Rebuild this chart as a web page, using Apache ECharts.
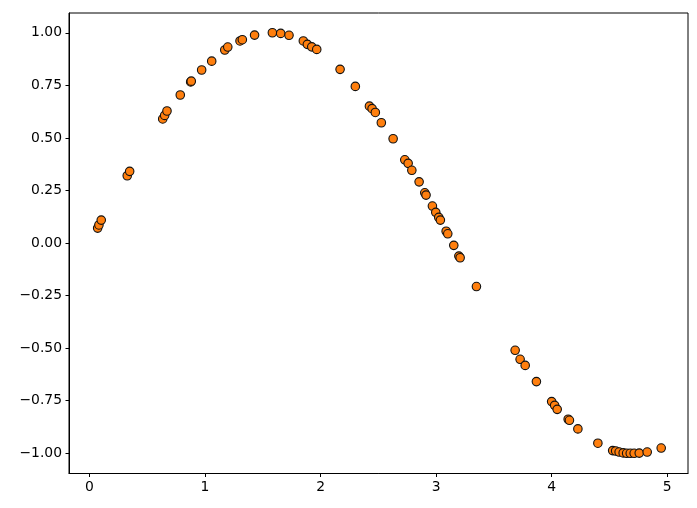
<!DOCTYPE html>
<html>
<head>
<meta charset="utf-8">
<script src="https://cdn.jsdelivr.net/npm/echarts@6/dist/echarts.min.js"></script>
<style>html,body{margin:0;padding:0;background:#fff}#c{width:697px;height:508px}</style>
</head>
<body>
<div id="c"></div>
<script>
var xValues = [0.071,0.082,0.102,0.327,0.348,0.634,0.651,0.671,0.786,0.876,0.881,0.971,1.058,1.171,1.197,1.303,1.323,1.429,1.583,1.655,1.727,1.851,1.886,1.924,1.967,2.169,2.301,2.423,2.446,2.474,2.526,2.628,2.729,2.758,2.790,2.853,2.902,2.913,2.968,2.997,3.023,3.037,3.087,3.101,3.153,3.197,3.208,3.349,3.684,3.727,3.771,3.868,4.000,4.026,4.048,4.143,4.154,4.227,4.400,4.528,4.554,4.584,4.619,4.649,4.680,4.714,4.758,4.827,4.948];
var yValues = [0.071,0.086,0.109,0.320,0.341,0.590,0.607,0.628,0.704,0.766,0.770,0.823,0.865,0.918,0.932,0.961,0.967,0.989,1.000,0.997,0.988,0.961,0.945,0.933,0.921,0.826,0.745,0.651,0.639,0.621,0.572,0.496,0.396,0.379,0.346,0.291,0.239,0.228,0.176,0.146,0.122,0.109,0.056,0.044,-0.011,-0.062,-0.070,-0.207,-0.510,-0.553,-0.582,-0.659,-0.754,-0.772,-0.791,-0.838,-0.843,-0.884,-0.952,-0.987,-0.989,-0.994,-0.998,-1.000,-1.000,-1.000,-0.999,-0.994,-0.975];
var xTicks = [0,1,2,3,4,5];
var yTicks = [-1,-0.75,-0.5,-0.25,0,0.25,0.5,0.75,1];

var data = xValues.map(function(x,i){return [x,yValues[i]];});
var font = 'DejaVu Sans';
var chart = echarts.init(document.getElementById('c'), null, {renderer:'canvas'});
chart.setOption({
  animation:false,
  backgroundColor:'#ffffff',
  grid:{left:69,top:13,right:9,bottom:34.5,show:true,borderColor:'#000',borderWidth:1,backgroundColor:'transparent'},
  xAxis:{type:'value',min:-0.177,max:5.18,
    axisLine:{show:true,onZero:false,lineStyle:{color:'#000',width:1}},
    axisTick:{show:true,length:3.5,customValues:xTicks,lineStyle:{color:'#000'}},
    axisLabel:{customValues:xTicks,margin:7,color:'#000',fontFamily:font,fontSize:13.9,formatter:function(v){return String(Math.round(v));}},
    splitLine:{show:false}},
  yAxis:{type:'value',min:-1.096,max:1.094,
    axisLine:{show:true,onZero:false,lineStyle:{color:'#000',width:1}},
    axisTick:{show:true,length:3.5,customValues:yTicks,lineStyle:{color:'#000'}},
    axisLabel:{customValues:yTicks,margin:7,color:'#000',fontFamily:font,fontSize:13.9,formatter:function(v){return v.toFixed(2).replace('-','\u2212');}},
    splitLine:{show:false}},
  series:[{type:'scatter',data:data,symbol:'circle',symbolSize:8.5,
    itemStyle:{color:'#ff7f0e',borderColor:'#111',borderWidth:1.1,opacity:1}}]
});
</script>
</body>
</html>
